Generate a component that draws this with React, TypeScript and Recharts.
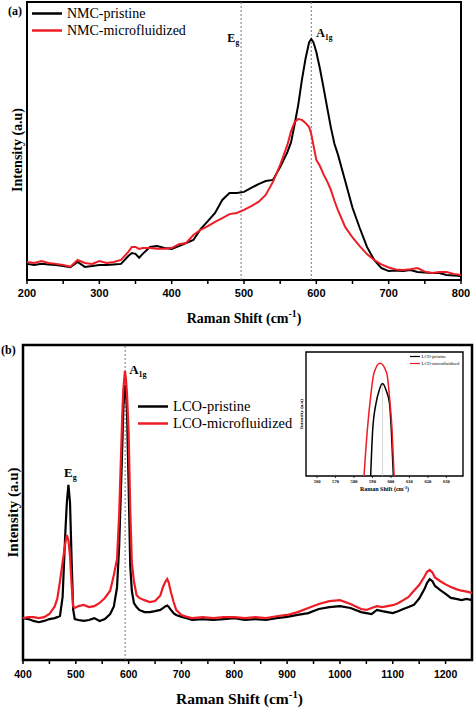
import {
  LineChart,
  Line,
  XAxis,
  YAxis,
  ReferenceArea,
  ReferenceLine,
  ReferenceDot,
  Legend,
} from "recharts";

const serif = '"Liberation Serif", "Times New Roman", serif';
const sans = '"Liberation Sans", Arial, sans-serif';
const RED = "#ee1c25";
const BLACK = "#000000";

// (a) NMC spectra
const nmcShift = [
  200, 210, 220, 230, 240, 250, 260, 270, 280, 290, 300, 310, 320, 330, 340, 345, 350, 355, 360, 370,
  380, 390, 400, 410, 420, 430, 440, 450, 460, 470, 480, 490, 500, 510, 520, 530, 540, 550, 560, 565,
  570, 575, 580, 585, 590, 593, 596, 600, 605, 610, 615, 620, 625, 630, 640, 650, 660, 670, 680, 690,
  700, 710, 720, 730, 740, 750, 760, 770, 780, 790, 800,
];
const nmcPristine = [
  5.8, 5.4, 5.8, 5.6, 5.4, 5.0, 4.6, 6.5, 4.7, 5.0, 5.4, 5.4, 5.6, 5.8, 8.6, 9.7, 9.4, 8.0, 9.4, 11.9,
  12.2, 11.5, 11.2, 12.2, 13.3, 14.4, 18.3, 21.2, 24.1, 28.8, 31.3, 31.3, 31.7, 33.1, 34.5, 35.6, 36.0, 40.6, 46.0, 49.5,
  56.0, 63.0, 71.9, 79.5, 85.5, 86.7, 85.5, 82.0, 76.0, 69.1, 62.0, 55.0, 49.0, 45.0, 35.5, 26.0, 18.7, 11.9, 7.2, 4.3,
  3.2, 3.4, 3.2, 3.6, 2.9, 2.7, 2.5, 2.5, 1.8, 1.6, 1.4,
];
const nmcMicro = [
  6.5, 6.1, 6.8, 6.1, 5.8, 5.4, 4.8, 7.2, 6.1, 5.8, 6.8, 6.1, 6.5, 7.2, 10.1, 11.9, 11.9, 11.2, 11.5, 11.5,
  11.2, 11.2, 11.5, 12.9, 13.3, 16.2, 18.0, 19.4, 20.9, 22.3, 23.7, 24.1, 25.2, 26.6, 28.1, 30.6, 35.3, 41.4, 48.6, 53.5,
  56.8, 57.9, 57.6, 56.5, 55.0, 52.5, 48.5, 43.2, 41.0, 38.0, 35.5, 32.5, 28.5, 25.0, 19.0, 15.3, 12.2, 9.3, 7.2, 5.6,
  4.5, 3.8, 3.6, 3.9, 4.3, 3.0, 2.5, 2.9, 2.9, 2.2, 1.8,
];
const nmcTicks = [200, 250, 300, 350, 400, 450, 500, 550, 600, 650, 700, 750, 800];
const nmcEg = 496;
const nmcA1g = 593;

// (b) LCO spectra
const lcoShift = [
  400, 410, 420, 430, 440, 450, 460, 465, 470, 475, 480, 483, 486, 489, 492, 495, 498, 505, 515, 525,
  535, 545, 555, 565, 572, 578, 582, 585, 588, 590, 593, 595, 597, 600, 603, 606, 610, 615, 620, 630,
  640, 650, 660, 665, 670, 673, 676, 680, 685, 690, 700, 710, 720, 740, 760, 780, 800, 820, 840, 860,
  880, 900, 920, 940, 960, 980, 1000, 1020, 1040, 1050, 1060, 1070, 1080, 1090, 1100, 1110, 1120, 1130, 1140, 1150,
  1160, 1165, 1170, 1175, 1180, 1190, 1200, 1210, 1220, 1230, 1240, 1250,
];
const lcoPristine = [
  13.3, 13.0, 12.4, 12.0, 12.4, 13.0, 13.3, 13.6, 14.0, 20.0, 40.0, 50.0, 55.6, 50.0, 32.0, 16.0, 13.0, 12.7, 12.4, 12.7,
  13.3, 12.4, 13.0, 14.6, 17.0, 23.0, 36.0, 52.0, 68.0, 80.0, 87.3, 86.0, 78.0, 55.0, 30.0, 22.0, 18.1, 16.8, 15.9, 15.2,
  15.2, 15.5, 15.9, 16.5, 17.1, 17.3, 16.8, 15.9, 14.9, 14.3, 13.7, 13.3, 12.7, 13.0, 12.7, 13.0, 13.3, 12.7, 13.0, 12.7,
  13.3, 13.7, 14.3, 14.9, 16.2, 16.8, 17.1, 16.5, 15.2, 14.9, 14.6, 15.9, 15.5, 15.2, 14.9, 15.5, 16.2, 16.8, 17.5, 19.5,
  22.5, 24.5, 25.7, 25.0, 23.5, 22.2, 21.0, 19.7, 19.4, 19.0, 19.4, 19.0,
];
const lcoMicro = [
  13.3, 13.6, 13.6, 13.3, 13.6, 14.6, 17.0, 19.5, 25.0, 31.0, 37.0, 39.7, 38.0, 33.0, 24.0, 17.0, 16.5, 17.1, 17.5, 16.8,
  17.1, 18.1, 19.7, 22.0, 27.0, 32.0, 46.0, 62.0, 78.0, 86.0, 91.8, 89.0, 84.0, 72.0, 48.0, 31.0, 25.0, 20.6, 19.7, 19.0,
  18.4, 18.7, 20.5, 23.2, 25.0, 25.7, 24.5, 21.5, 18.5, 15.9, 14.3, 13.7, 13.3, 13.6, 13.3, 13.6, 13.6, 13.3, 13.6, 13.3,
  13.9, 14.3, 15.2, 16.5, 17.8, 18.7, 19.0, 17.8, 16.2, 15.9, 16.5, 17.1, 16.8, 17.1, 17.4, 18.0, 19.0, 20.0, 22.0, 23.8,
  26.5, 28.0, 28.6, 27.8, 26.2, 25.0, 24.0, 23.2, 22.5, 22.0, 21.7, 21.3,
];
const lcoTicks = [400, 450, 500, 550, 600, 650, 700, 750, 800, 850, 900, 950, 1000, 1050, 1100, 1150, 1200];
const lcoA1g = 593.4;
const lcoEgShift = 486;
const lcoEgPeak = 55.6;

// inset: A1g band tops
const insetPristineShift = [589, 590.1, 591.9, 593.6, 595.4, 597.4, 599.2, 600.2, 601.3];
const insetPristine = [0, 37, 58.5, 69, 74.5, 69, 58.5, 37, 0];
const insetMicroShift = [585.4, 587.2, 589, 590.8, 594.1, 597.7, 599.2, 600.6, 601.7];
const insetMicro = [0, 37, 64, 83, 91, 83, 64, 37, 0];
const insetTicks = [560, 570, 580, 590, 600, 610, 620, 630];
const insetCenter = 595.4;

const nmcRows = nmcShift.map((shift, i) => ({ shift, pristine: nmcPristine[i], micro: nmcMicro[i] }));
const lcoRows = lcoShift.map((shift, i) => ({ shift, pristine: lcoPristine[i], micro: lcoMicro[i] }));
const insetPristineRows = insetPristineShift.map((shift, i) => ({ shift, v: insetPristine[i] }));
const insetMicroRows = insetMicroShift.map((shift, i) => ({ shift, v: insetMicro[i] }));

const hundreds = (v: number) => (v % 100 === 0 ? String(v) : "");

// bold band label, e.g. A with a "1g" subscript
const BandTag = ({ x, y, main, sub, anchor = "start", size = 12 }: any) => (
  <text x={x} y={y} textAnchor={anchor} fontFamily={serif} fontWeight="bold" fontSize={size} fill="#000">
    {main}
    <tspan fontSize={size * 0.62} dy={3}>
      {sub}
    </tspan>
  </text>
);

const ShiftTitle = ({ x, y, size }: any) => (
  <text x={x} y={y} textAnchor="middle" fontFamily={serif} fontWeight="bold" fontSize={size} fill="#000">
    Raman Shift (cm
    <tspan fontSize={size * 0.7} dy={-size * 0.4}>
      -1
    </tspan>
    <tspan dy={size * 0.4}>)</tspan>
  </text>
);

const IntensityTitle = ({ x, y, size }: any) => (
  <text
    x={x}
    y={y}
    transform={`rotate(-90 ${x} ${y})`}
    textAnchor="middle"
    dominantBaseline="central"
    fontFamily={serif}
    fontWeight="bold"
    fontSize={size}
    fill="#000"
  >
    Intensity (a.u)
  </text>
);

// legend rows: pristine first, then microfluidized
const byPristineFirst = (a: any, b: any) =>
  Number(/microfluid/.test(a.value)) - Number(/microfluid/.test(b.value));

const makeKey = (opts: { len: number; gap: number; size: number; sw: number; w: number }) =>
  ({ payload }: any) => (
    <svg width={opts.w} height={opts.gap * 2 + 4} style={{ display: "block" }}>
      {[...(payload || [])].sort(byPristineFirst).map((entry: any, i: number) => {
        const cy = opts.gap / 2 + 2 + i * opts.gap;
        return (
          <g key={entry.value}>
            <line x1={0} x2={opts.len} y1={cy} y2={cy} stroke={entry.color} strokeWidth={opts.sw} />
            <text
              x={opts.len + opts.size * 0.35}
              y={cy}
              dy="0.33em"
              fontFamily={serif}
              fontSize={opts.size}
              fill="#000"
            >
              {entry.value}
            </text>
          </g>
        );
      })}
    </svg>
  );

const nmcKey = makeKey({ len: 30, gap: 17, size: 14, sw: 2.5, w: 200 });
const lcoKey = makeKey({ len: 30, gap: 17, size: 14.5, sw: 2.5, w: 200 });
const insetKey = makeKey({ len: 10, gap: 7, size: 4.6, sw: 1.2, w: 60 });

const tag: any = {
  position: "absolute",
  fontFamily: serif,
  fontWeight: "bold",
  fontSize: 12,
  lineHeight: "12px",
};

export default function App() {
  return (
    <div style={{ position: "absolute", left: 0, top: 0, width: 474, height: 708, background: "#fff" }}>
      <div style={{ ...tag, left: 8, top: 5 }}>(a)</div>
      <div style={{ ...tag, left: 1, top: 344 }}>(b)</div>

      {/* (a) NMC */}
      <div style={{ position: "absolute", left: 0, top: 0 }}>
        <LineChart width={474} height={330} data={nmcRows} margin={{ top: 2, right: 13, bottom: 20, left: 0 }}>
          <XAxis
            dataKey="shift"
            type="number"
            domain={[200, 800]}
            ticks={nmcTicks}
            interval={0}
            tickFormatter={hundreds}
            axisLine={false}
            tickLine={{ stroke: "#000", strokeWidth: 1.5 }}
            tickSize={4}
            tickMargin={5}
            height={30}
            tick={{ fontFamily: sans, fontWeight: "bold", fontSize: 11, fill: "#000" }}
            label={({ viewBox }: any) => (
              <ShiftTitle x={viewBox.x + viewBox.width / 2} y={viewBox.y + 43} size={14} />
            )}
          />
          <YAxis
            domain={[0, 100]}
            width={27}
            tick={false}
            tickLine={false}
            axisLine={false}
            label={({ viewBox }: any) => (
              <IntensityTitle x={17} y={viewBox.y + viewBox.height / 2 + 9} size={14} />
            )}
          />
          <ReferenceArea x1={200} x2={800} y1={0} y2={100} fill="none" stroke="#000" strokeWidth={2} />
          <ReferenceLine
            x={nmcEg}
            stroke="#777"
            strokeDasharray="2 2"
            label={({ viewBox }: any) => <BandTag x={viewBox.x - 2} y={viewBox.y + 40} main="E" sub="g" anchor="end" />}
          />
          <ReferenceLine
            x={nmcA1g}
            stroke="#777"
            strokeDasharray="2 2"
            label={({ viewBox }: any) => <BandTag x={viewBox.x + 5} y={viewBox.y + 35} main="A" sub="1g" />}
          />
          <Legend
            layout="vertical"
            align="center"
            verticalAlign="middle"
            content={nmcKey}
            wrapperStyle={{ left: 32, top: 3, width: 200 }}
          />
          <Line
            name="NMC-pristine"
            type="linear"
            dataKey="pristine"
            stroke={BLACK}
            strokeWidth={2}
            dot={false}
            isAnimationActive={false}
          />
          <Line
            name="NMC-microfluidized"
            type="linear"
            dataKey="micro"
            stroke={RED}
            strokeWidth={2}
            dot={false}
            isAnimationActive={false}
          />
        </LineChart>
      </div>

      {/* (b) LCO */}
      <div style={{ position: "absolute", left: 0, top: 330 }}>
        <LineChart width={474} height={378} data={lcoRows} margin={{ top: 15, right: 2, bottom: 18, left: 0 }}>
          <XAxis
            dataKey="shift"
            type="number"
            domain={[400, 1250]}
            ticks={lcoTicks}
            interval={0}
            tickFormatter={hundreds}
            axisLine={false}
            tickLine={{ stroke: "#000", strokeWidth: 1.5 }}
            tickSize={4}
            tickMargin={7}
            height={30}
            tick={{ fontFamily: sans, fontWeight: "bold", fontSize: 10.5, fill: "#000" }}
            label={({ viewBox }: any) => (
              <ShiftTitle x={viewBox.x + viewBox.width / 2 - 8} y={viewBox.y + 44} size={15.5} />
            )}
          />
          <YAxis
            domain={[0, 100]}
            width={23}
            tick={false}
            tickLine={false}
            axisLine={false}
            label={({ viewBox }: any) => (
              <IntensityTitle x={12.5} y={viewBox.y + viewBox.height / 2 + 10} size={15} />
            )}
          />
          <ReferenceArea x1={400} x2={1250} y1={0} y2={100} fill="none" stroke="#000" strokeWidth={2.5} />
          <ReferenceLine
            x={lcoA1g}
            stroke="#777"
            strokeDasharray="2 2"
            label={({ viewBox }: any) => <BandTag x={viewBox.x + 4} y={viewBox.y + 29} main="A" sub="1g" size={13} />}
          />
          <ReferenceDot
            x={lcoEgShift}
            y={lcoEgPeak}
            r={0}
            fill="none"
            stroke="none"
            label={({ viewBox }: any) => (
              <BandTag x={viewBox.x + 2} y={viewBox.y - 8} main="E" sub="g" anchor="middle" size={13} />
            )}
          />
          <Legend
            layout="vertical"
            align="center"
            verticalAlign="middle"
            content={lcoKey}
            wrapperStyle={{ left: 138, top: 66, width: 200 }}
          />
          <Line
            name="LCO-pristine"
            type="linear"
            dataKey="pristine"
            stroke={BLACK}
            strokeWidth={2.2}
            dot={false}
            isAnimationActive={false}
          />
          <Line
            name="LCO-microfluidized"
            type="linear"
            dataKey="micro"
            stroke={RED}
            strokeWidth={2.2}
            dot={false}
            isAnimationActive={false}
          />
        </LineChart>
      </div>

      {/* inset: zoom on the A1g band */}
      <div style={{ position: "absolute", left: 296, top: 340 }}>
        <LineChart width={175} height={160} margin={{ top: 12, right: 8, bottom: 10, left: 0 }}>
          <XAxis
            dataKey="shift"
            type="number"
            domain={[554, 639]}
            ticks={insetTicks}
            interval={0}
            axisLine={false}
            tickLine={{ stroke: "#000", strokeWidth: 0.8 }}
            tickSize={2}
            tickMargin={2}
            height={14}
            tick={{ fontFamily: serif, fontWeight: "bold", fontSize: 4.6, fill: "#000" }}
            label={({ viewBox }: any) => (
              <ShiftTitle x={viewBox.x + viewBox.width / 2} y={viewBox.y + 15} size={6} />
            )}
          />
          <YAxis
            domain={[0, 100]}
            width={10}
            tick={false}
            tickLine={false}
            axisLine={false}
            label={({ viewBox }: any) => (
              <IntensityTitle x={5} y={viewBox.y + viewBox.height / 2} size={5} />
            )}
          />
          <ReferenceArea x1={554} x2={639} y1={0} y2={100} fill="#fff" stroke="#000" strokeWidth={1.4} />
          <ReferenceLine
            segment={[
              { x: insetCenter, y: 0 },
              { x: insetCenter, y: 74.5 },
            ]}
            stroke="#bbb"
            strokeWidth={0.6}
          />
          <Legend
            layout="vertical"
            align="center"
            verticalAlign="middle"
            content={insetKey}
            wrapperStyle={{ left: 114, top: 11, width: 60 }}
          />
          <Line
            name="LCO-pristine"
            data={insetPristineRows}
            type="monotone"
            dataKey="v"
            stroke={BLACK}
            strokeWidth={1.5}
            dot={false}
            isAnimationActive={false}
          />
          <Line
            name="LCO-microfluidized"
            data={insetMicroRows}
            type="monotone"
            dataKey="v"
            stroke={RED}
            strokeWidth={1.5}
            dot={false}
            isAnimationActive={false}
          />
        </LineChart>
      </div>
    </div>
  );
}
